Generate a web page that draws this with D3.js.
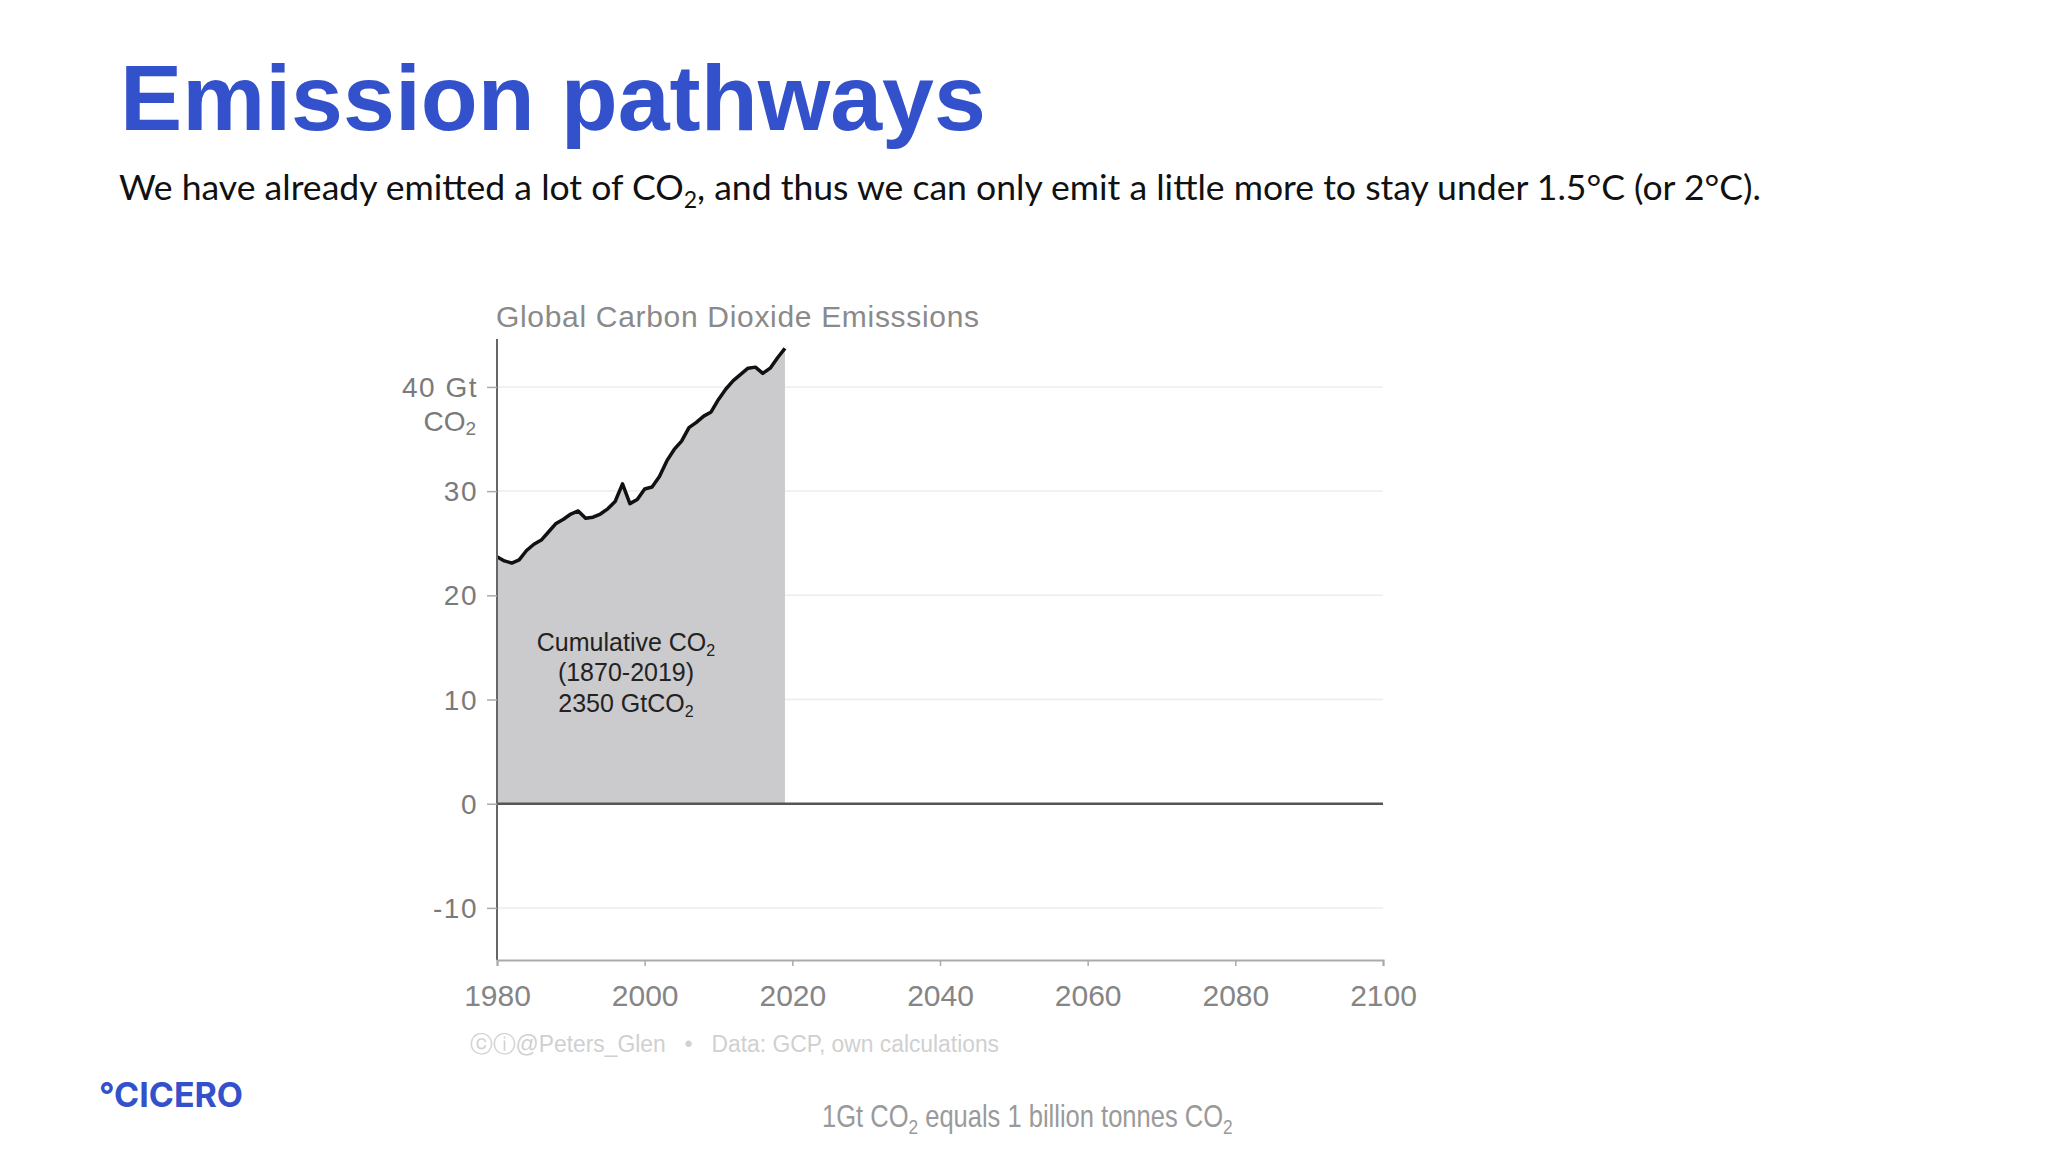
<!DOCTYPE html>
<html><head><meta charset="utf-8">
<script src="https://cdn.jsdelivr.net/npm/d3@7/dist/d3.min.js"></script>
<style>
html,body{margin:0;padding:0;background:#fff;}
svg{display:block;}
</style></head>
<body>
<svg id="c" width="2048" height="1152"></svg>
<script>
const years = [1980,1981,1982,1983,1984,1985,1986,1987,1988,1989,1990,1991,1992,1993,1994,1995,1996,1997,1998,1999,2000,2001,2002,2003,2004,2005,2006,2007,2008,2009,2010,2011,2012,2013,2014,2015,2016,2017,2018,2019];
const emissions = [23.7,23.3,23.1,23.4,24.3,24.9,25.3,26.1,26.9,27.3,27.8,28.1,27.4,27.5,27.8,28.3,29.0,30.7,28.8,29.2,30.2,30.4,31.4,32.9,34.0,34.8,36.1,36.6,37.2,37.6,38.8,39.8,40.6,41.2,41.8,41.9,41.3,41.8,42.8,43.7];
const xTicks = [1980,2000,2020,2040,2060,2080,2100];
const yTicks = [-10,0,10,20,30,40];

const svg = d3.select("#c");
const x = d3.scaleLinear().domain([1980,2100]).range([497,1383]);
const y = d3.scaleLinear().domain([-15,44.6]).range([960,339]);
const data = years.map((yr,i)=>({yr, v:emissions[i]}));

function fitFont(sel, base, target){
  const w = sel.node().getComputedTextLength();
  sel.attr("font-size", base*target/w);
}
function squeeze(sel, x0, target){
  const w = sel.node().getBBox().width;
  const s = target/w;
  sel.attr("transform", `translate(${x0},0) scale(${s},1) translate(${-x0},0)`);
}

// Slide title
const title = svg.append("text").attr("x",120).attr("y",130)
  .attr("font-family","Liberation Sans, Arial, sans-serif").attr("font-weight","bold")
  .attr("font-size",90).attr("fill","#3451cc").text("Emission pathways");
fitFont(title, 90, 866);

// Subtitle
const sub = svg.append("text").attr("x",119).attr("y",200)
  .attr("font-family","Lato, 'Open Sans', sans-serif").attr("font-size",32).attr("fill","#111");
sub.append("tspan").text("We have already emitted a lot of CO");
sub.append("tspan").attr("dy",8).attr("font-size",23).text("2");
sub.append("tspan").attr("dy",-8).text(", and thus we can only emit a little more to stay under 1.5°C (or 2°C).");
fitFont(sub, 32, 1763-119);

// Chart title
svg.append("text").attr("x",496).attr("y",327)
  .attr("font-family","Liberation Sans, Arial, sans-serif").attr("font-size",30).attr("fill","#8a8a8a")
  .attr("textLength",483).attr("lengthAdjust","spacing")
  .text("Global Carbon Dioxide Emisssions");

// Gridlines
svg.append("g").selectAll("line").data(yTicks.filter(d=>d!==0)).join("line")
  .attr("x1",x(1980)).attr("x2",x(2100)).attr("y1",d=>y(d)).attr("y2",d=>y(d))
  .attr("stroke","#ececec").attr("stroke-width",1.5);

// Area
svg.append("path").datum(data)
  .attr("d", d3.area().x(d=>x(d.yr)).y0(y(0)).y1(d=>y(d.v)))
  .attr("fill","#cbcacd");
// Line
svg.append("path").datum(data)
  .attr("d", d3.line().x(d=>x(d.yr)).y(d=>y(d.v)))
  .attr("fill","none").attr("stroke","#111").attr("stroke-width",3.5).attr("stroke-linejoin","round");

// Zero line
svg.append("line").attr("x1",x(1980)).attr("x2",x(2100)).attr("y1",y(0)).attr("y2",y(0))
  .attr("stroke","#555").attr("stroke-width",2.5);

// Y axis
const yAxis = svg.append("g").attr("transform",`translate(${x(1980)},0)`)
  .call(d3.axisLeft(y).tickValues(yTicks).tickSize(10).tickPadding(9).tickFormat(d=> d===40 ? "40 Gt" : String(d)));
yAxis.select(".domain").attr("stroke","#666").attr("stroke-width",2).attr("d",`M0,${y(44.6)}V${y(-15)}`);
yAxis.selectAll(".tick line").attr("stroke","#aaa").attr("stroke-width",1.5);
yAxis.selectAll(".tick text").attr("font-family","Liberation Sans, Arial, sans-serif").attr("font-size",28)
  .attr("letter-spacing",1.5).attr("fill","#7a7a7a").attr("dy","0.34em");
// CO2 under 40 Gt
const co2 = yAxis.append("text").attr("x",-21).attr("y",431).attr("text-anchor","end")
  .attr("font-family","Liberation Sans, Arial, sans-serif").attr("font-size",28).attr("fill","#7a7a7a");
co2.append("tspan").text("CO");
co2.append("tspan").attr("font-size",19).attr("dy",4).text("2");

// X axis
const xAxis = svg.append("g").attr("transform",`translate(0,${y(-15)})`)
  .call(d3.axisBottom(x).tickValues(xTicks).tickSize(6).tickPadding(19).tickFormat(d3.format("d")));
xAxis.select(".domain").attr("stroke","#aaa").attr("stroke-width",2);
xAxis.selectAll(".tick line").attr("stroke","#aaa").attr("stroke-width",1.5);
xAxis.selectAll(".tick text").attr("font-family","Liberation Sans, Arial, sans-serif").attr("font-size",30).attr("fill","#858585");

// Annotation
const ann = svg.append("text").attr("text-anchor","middle")
  .attr("font-family","Liberation Sans, Arial, sans-serif").attr("font-size",25).attr("fill","#222");
const l1 = ann.append("tspan").attr("x",626).attr("y",651);
l1.append("tspan").text("Cumulative CO");
l1.append("tspan").attr("font-size",16).attr("dy",5).text("2");
ann.append("tspan").attr("x",626).attr("y",681).text("(1870-2019)");
const l3 = ann.append("tspan").attr("x",626).attr("y",712);
l3.append("tspan").text("2350 GtCO");
l3.append("tspan").attr("font-size",16).attr("dy",5).text("2");

// Credit
svg.append("text").attr("x",470).attr("y",1052)
  .attr("font-family","Liberation Sans, Arial, sans-serif").attr("font-size",23).attr("fill","#d0d0d0")
  .attr("textLength",529).attr("lengthAdjust","spacingAndGlyphs")
  .text("\u24D2\u24D8@Peters_Glen\u00A0\u00A0\u00A0\u2022\u00A0\u00A0\u00A0Data: GCP, own calculations");

// Logo
svg.append("text").attr("x",99).attr("y",1107)
  .attr("font-family","Inter, Roboto, sans-serif").attr("font-weight","bold").attr("font-size",34).attr("fill","#3451cc")
  .text("°CICERO");

// Footnote
const fn = svg.append("text").attr("x",822).attr("y",1127)
  .attr("font-family","Liberation Sans, Arial, sans-serif").attr("font-size",31).attr("fill","#9a9a9a");
fn.append("tspan").text("1Gt CO");
fn.append("tspan").attr("font-size",21).attr("dy",7).text("2");
fn.append("tspan").attr("dy",-7).text(" equals 1 billion tonnes CO");
fn.append("tspan").attr("font-size",21).attr("dy",7).text("2");
squeeze(fn, 822, 411);
</script>
</body></html>
